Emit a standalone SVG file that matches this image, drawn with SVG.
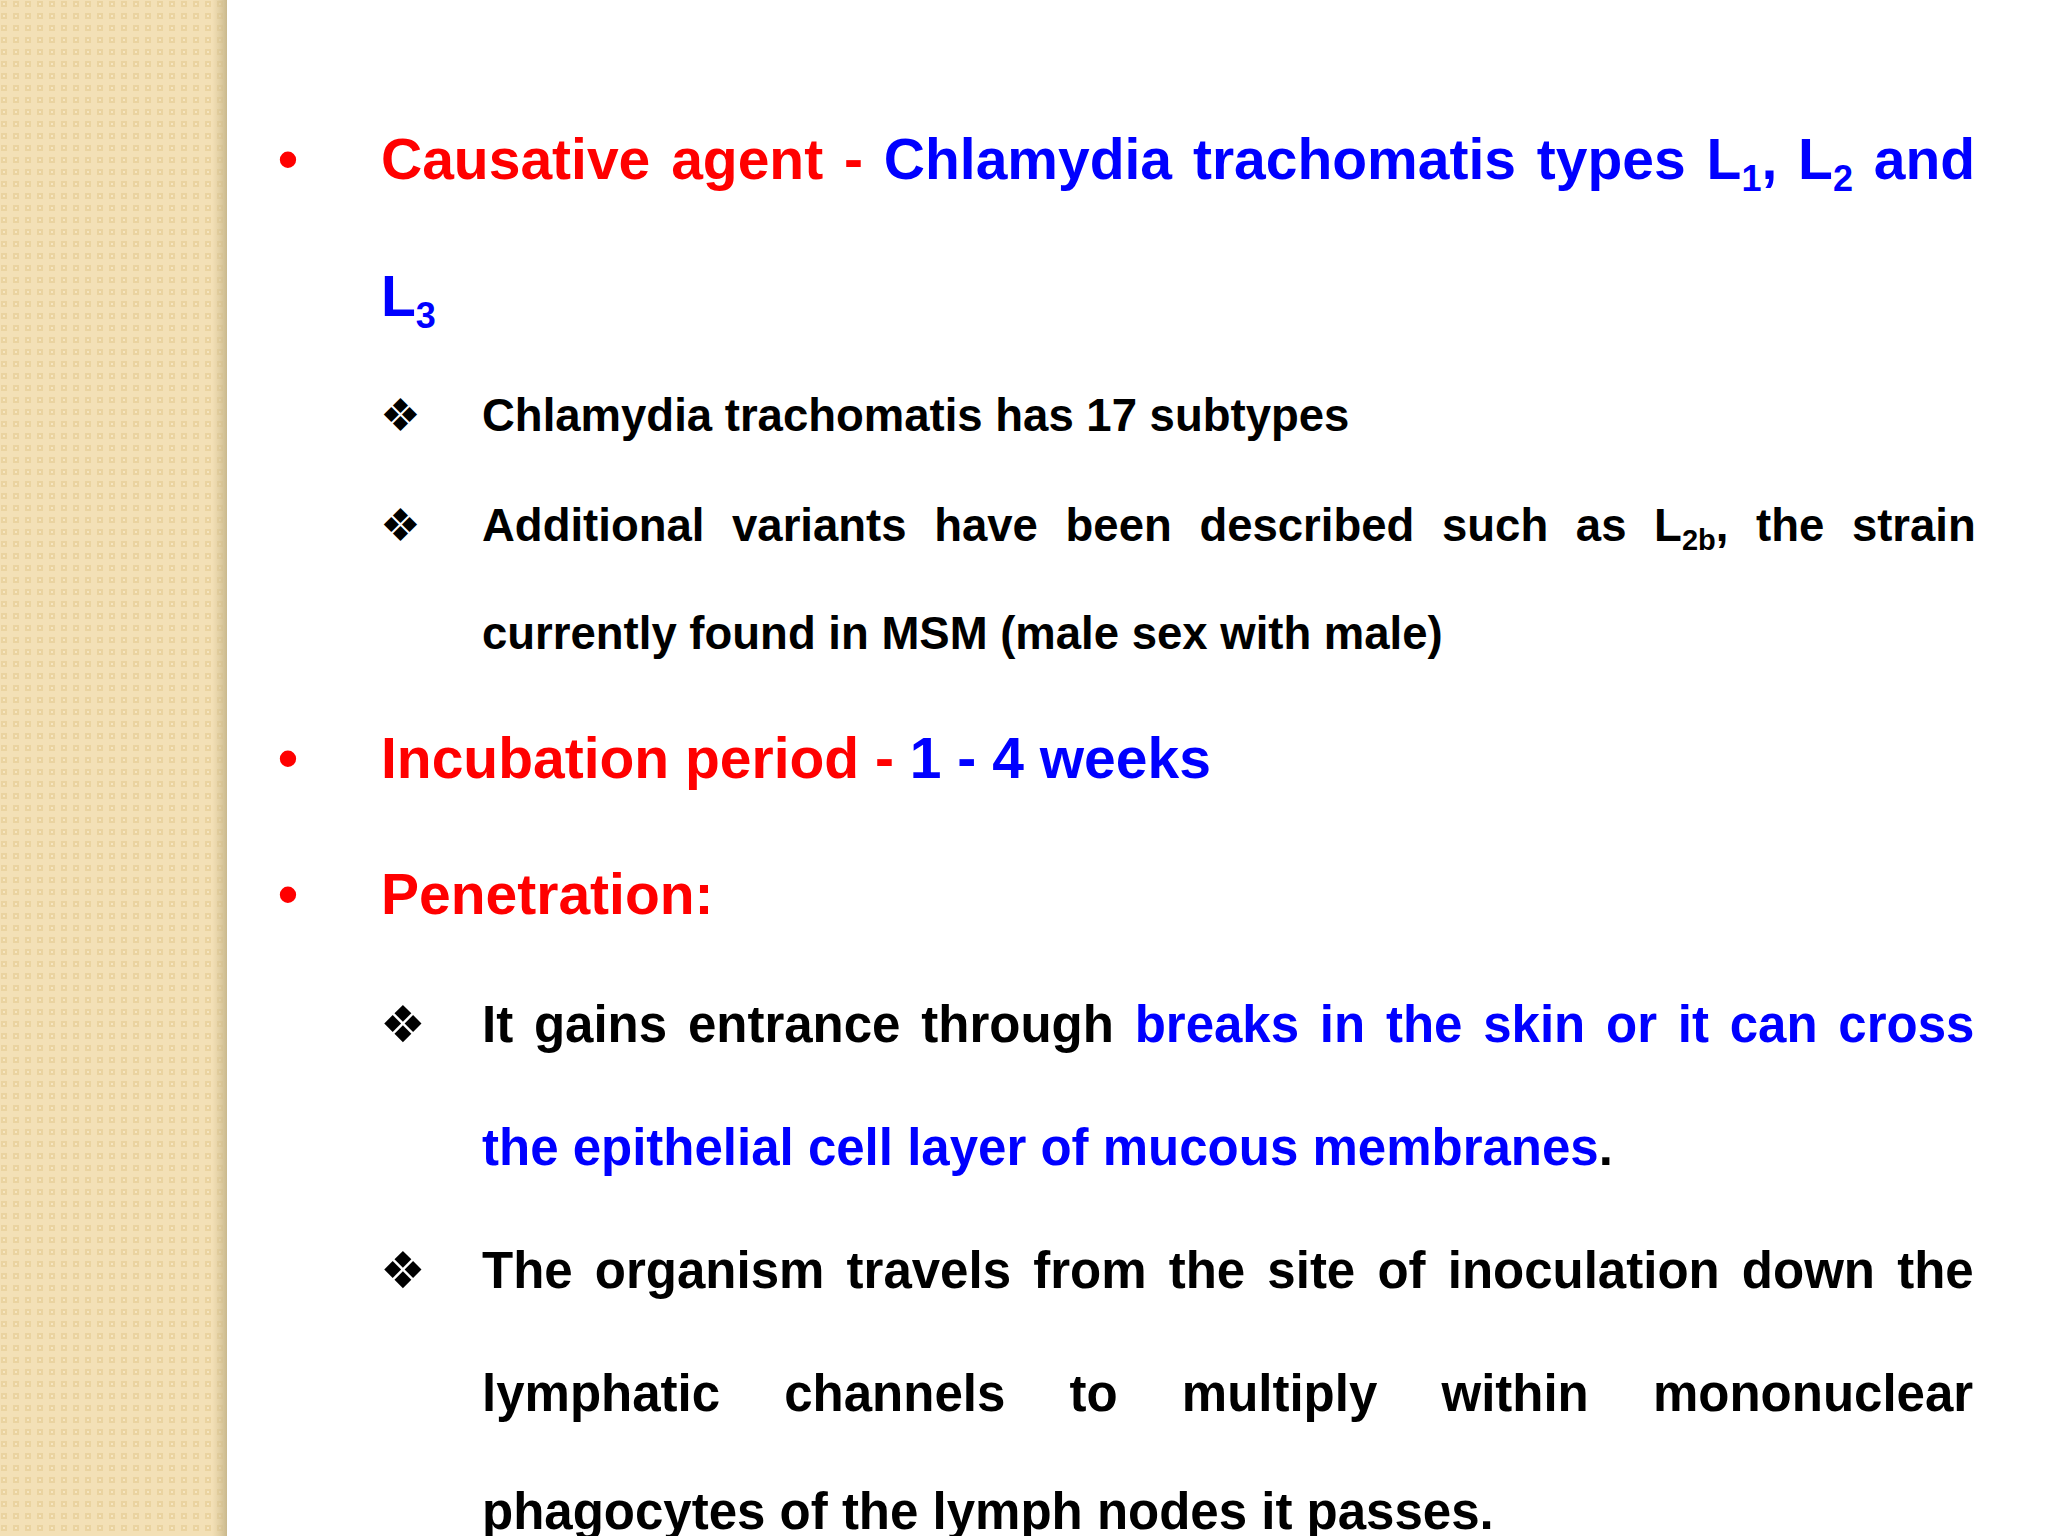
<svg xmlns="http://www.w3.org/2000/svg" width="2048" height="1536" viewBox="0 0 2048 1536">
<defs>
<pattern id="pat" width="12" height="12" patternUnits="userSpaceOnUse">
<rect width="12" height="12" fill="#f3e0b6"/>
<rect x="1" y="1" width="6" height="6" fill="#ead3a0"/>
<rect x="3" y="3" width="2" height="2" fill="#f6e6c2"/>
</pattern>
<linearGradient id="sh" x1="0" x2="1">
<stop offset="0" stop-color="#d8c598" stop-opacity="0"/>
<stop offset="1" stop-color="#c9b88c"/>
</linearGradient>
<style>
text{font-family:"Liberation Sans",Arial,sans-serif;font-weight:bold}
.r{fill:#ff0000}.b{fill:#0000ff}.k{fill:#000}
.h{font-size:57px}.s{font-size:45.5px}.m{font-size:51px}
.sym{font-family:"DejaVu Sans",sans-serif;font-weight:normal}
</style>
</defs>
<rect width="2048" height="1536" fill="#fff"/>
<rect width="227" height="1536" fill="url(#pat)"/>
<rect x="212" width="15" height="1536" fill="url(#sh)"/>

<g id="b1">
<text class="h r" x="278" y="179">•</text>
<text class="h" x="381" y="179" word-spacing="5"><tspan class="r">Causative agent - </tspan><tspan class="b">Chlamydia trachomatis types L</tspan><tspan class="b" font-size="36" dy="12">1</tspan><tspan class="b" dy="-12">, L</tspan><tspan class="b" font-size="36" dy="12">2</tspan><tspan class="b" dy="-12"> and</tspan></text>
<text class="h b" x="381" y="316">L<tspan font-size="36" dy="12">3</tspan></text>
</g>
<g id="s1">
<text class="s k sym" x="380" y="431">❖</text>
<text class="s k" x="482" y="431">Chlamydia trachomatis has 17 subtypes</text>
</g>
<g id="s2">
<text class="s k sym" x="380" y="541">❖</text>
<text class="s k" x="482" y="541" word-spacing="15">Additional variants have been described such as L<tspan font-size="29" dy="9">2b</tspan><tspan dy="-9">, the strain</tspan></text>
<text class="s k" x="482" y="649">currently found in MSM (male sex with male)</text>
</g>
<g id="b2">
<text class="h r" x="278" y="778">•</text>
<text class="h" x="381" y="778"><tspan class="r">Incubation period - </tspan><tspan class="b">1 - 4 weeks</tspan></text>
</g>
<g id="b3">
<text class="h r" x="278" y="914">•</text>
<text class="h r" x="381" y="914">Penetration:</text>
</g>
<g id="s3">
<text class="m k sym" x="380" y="1042">❖</text>
<text class="m" x="482" y="1042" word-spacing="6.6"><tspan class="k">It gains entrance through </tspan><tspan class="b">breaks in the skin or it can cross</tspan></text>
<text class="m" x="482" y="1165"><tspan class="b">the epithelial cell layer of mucous membranes</tspan><tspan class="k">.</tspan></text>
</g>
<g id="s4">
<text class="m k sym" x="380" y="1288">❖</text>
<text class="m k" x="482" y="1288" word-spacing="8">The organism travels from the site of inoculation down the</text>
<text class="m k" x="482" y="1411" word-spacing="50">lymphatic channels to multiply within mononuclear</text>
<text class="m k" x="482" y="1529">phagocytes of the lymph nodes it passes.</text>
</g>
</svg>
